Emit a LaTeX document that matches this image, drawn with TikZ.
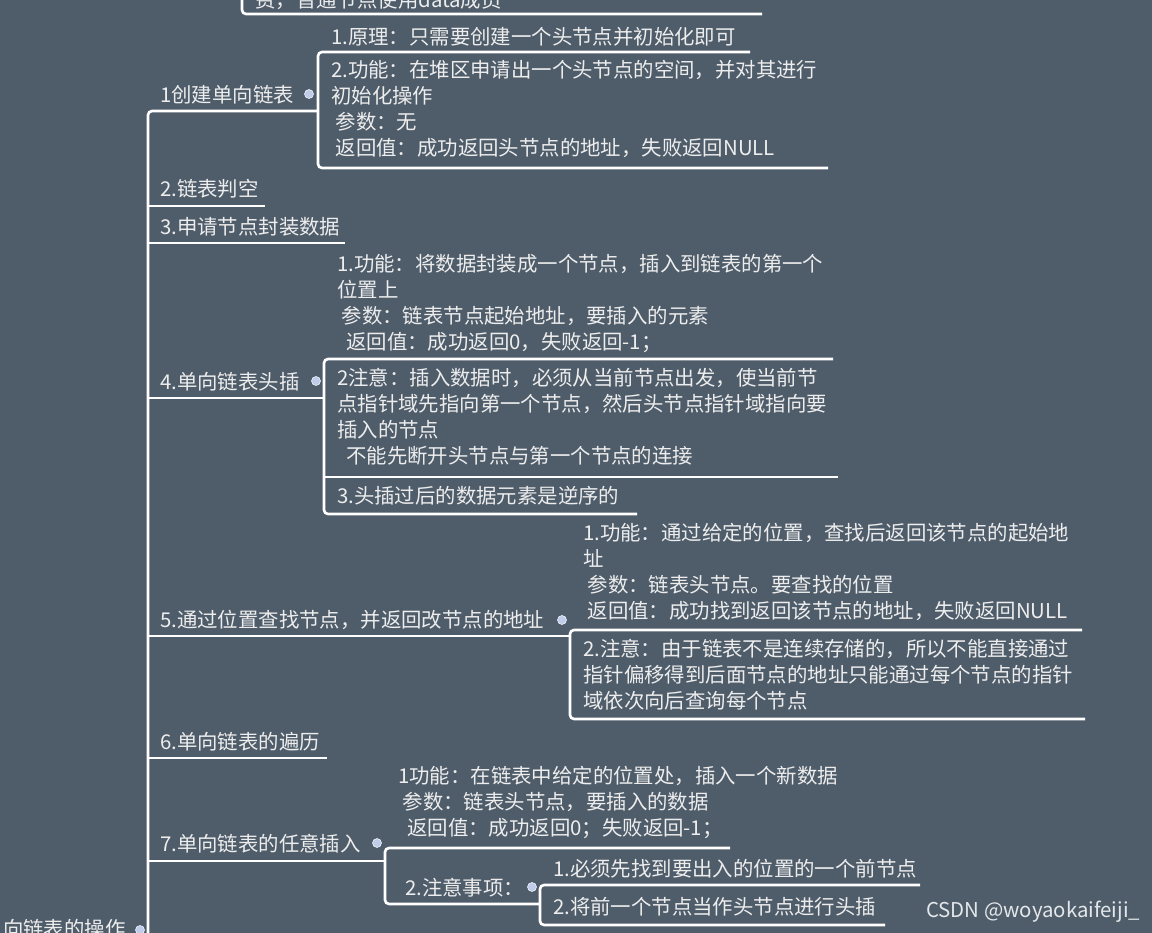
\documentclass[tikz,border=0pt]{standalone}
\usepackage{fontspec}
\setmainfont{Noto Sans CJK SC}
\definecolor{bg}{HTML}{4F5D6B}
\definecolor{tx}{HTML}{EDEDED}
\definecolor{dotc}{HTML}{BFCDEA}
\begin{document}
\begin{tikzpicture}[x=1pt,y=-1pt,
  t/.style={anchor=west,inner sep=0,text=tx,font=\fontsize{20.4}{26}\selectfont},
  m/.style={anchor=north west,inner sep=0,text=tx,align=left,font=\fontsize{20.4}{26}\selectfont},
  ln/.style={draw=white,line width=2.6pt,rounded corners=4pt},
  dt/.style={circle,fill=dotc,draw=white!70!dotc,line width=0.6pt,inner sep=0,minimum size=9pt}]
\fill[bg] (0,0) rectangle (1152,933);
\useasboundingbox (0,0) rectangle (1152,933);
\begin{scope}
\clip (0,0) rectangle (1152,933);
\node[t] (top) at (255,0) {费，普通节点使用data成员};
\draw[ln] (762,14)--(242,14)--(242,-12);
\node[t] (root) at (3,929) {向链表的操作};
\node[dt] (d0) at (140,930) {};
% trunk
\draw[ln] (318,111)--(148,111)--(148,950);
% 1
\node[t] (a1) at (160,95) {1创建单向链表};
\node[dt] (d1) at (309,94) {};
\node[t] (a11) at (331,37) {1.原理：只需要创建一个头节点并初始化即可};
\node[m] (a12) at (331,60) {2.功能：在堆区申请出一个头节点的空间，并对其进行\\初始化操作\\\ 参数：无\\\ 返回值：成功返回头节点的地址，失败返回NULL};
\draw[ln] (750,52)--(318,52)--(318,168)--(828,168);
% 2,3
\node[t] (a2) at (160,189) {2.链表判空};
\draw[ln] (148,206)--(265,206);
\node[t] (a3) at (160,227) {3.申请节点封装数据};
\draw[ln] (148,243)--(345,243);
% 4
\node[t] (a4) at (160,382) {4.单向链表头插};
\node[dt] (d4) at (316,381) {};
\draw[ln] (148,398)--(324,398);
\node[m] (a41) at (337,254) {1.功能：将数据封装成一个节点，插入到链表的第一个\\位置上\\\ 参数：链表节点起始地址，要插入的元素\\\ \ 返回值：成功返回0，失败返回-1；};
\node[m] (a42) at (337,368) {2注意：插入数据时，必须从当前节点出发，使当前节\\点指针域先指向第一个节点，然后头节点指针域指向要\\插入的节点\\\ \ 不能先断开头节点与第一个节点的连接};
\node[t] (a43) at (337,496) {3.头插过后的数据元素是逆序的};
\draw[ln] (833,359)--(324,359)--(324,514)--(637,514);
\draw[ln] (324,477)--(838,477);
% 5
\node[t] (a5) at (160,620) {5.通过位置查找节点，并返回改节点的地址};
\node[dt] (d5) at (562,620) {};
\draw[ln] (148,636)--(570,636);
\node[m] (a51) at (583,523) {1.功能：通过给定的位置，查找后返回该节点的起始地\\址\\\ 参数：链表头节点。要查找的位置\\\ 返回值：成功找到返回该节点的地址，失败返回NULL};
\node[m] (a52) at (583,639) {2.注意：由于链表不是连续存储的，所以不能直接通过\\指针偏移得到后面节点的地址只能通过每个节点的指针\\域依次向后查询每个节点};
\draw[ln] (1082,630)--(570,630)--(570,719)--(1085,719);
% 6
\node[t] (a6) at (160,742) {6.单向链表的遍历};
\draw[ln] (148,758)--(327,758);
% 7
\node[t] (a7) at (160,844) {7.单向链表的任意插入};
\node[dt] (d7) at (377,843) {};
\draw[ln] (148,861)--(385,861);
\node[m] (a71) at (398,766) {1功能：在链表中给定的位置处，插入一个新数据\\\ 参数：链表头节点，要插入的数据\\\ \ 返回值：成功返回0；失败返回-1；};
\draw[ln] (730,848)--(385,848)--(385,904)--(540,904);
\node[t] (a72) at (405,888) {2.注意事项：};
\node[dt] (d72) at (532,887) {};
\node[t] (a721) at (553,869) {1.必须先找到要出入的位置的一个前节点};
\node[t] (a722) at (553,907) {2.将前一个节点当作头节点进行头插};
\draw[ln] (920,885)--(540,885)--(540,925)--(885,925);
\node[t,text=white!85!bg] (wm) at (926,912) {CSDN @woyaokaifeiji\_};
\end{scope}
\end{tikzpicture}
\end{document}
